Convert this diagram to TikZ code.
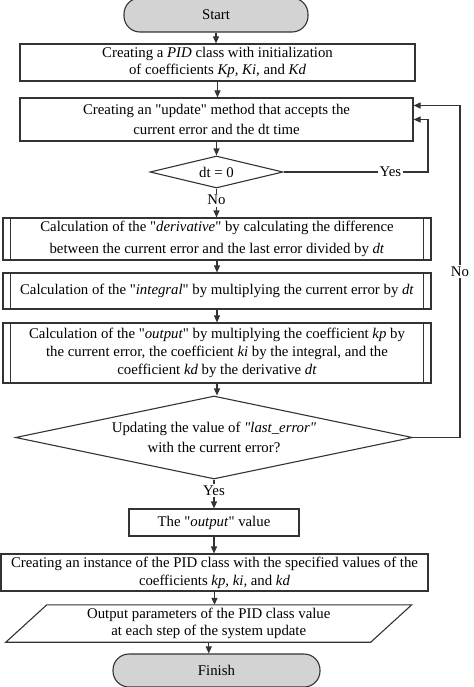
\documentclass[tikz,border=0pt]{standalone}
\usepackage{fontspec}
\setmainfont{Liberation Serif}[Ligatures=TeXOff]
\usetikzlibrary{shapes.geometric,arrows.meta,calc}
\definecolor{linec}{HTML}{333333}
\definecolor{termfill}{HTML}{D3D3D3}
\begin{document}
\begin{tikzpicture}[x=1bp,y=-1bp,
  font=\fontsize{14.8bp}{18bp}\selectfont,
  every node/.style={inner sep=0pt, align=center},
  box/.style={draw=linec, line width=1.1bp, fill=white, rectangle},
  term/.style={draw=linec, line width=1.1bp, fill=termfill, rounded corners=16bp},
  dec/.style={draw=linec, line width=1.1bp, diamond, fill=white, aspect=4},
  arr/.style={draw=linec, line width=1.1bp, -{Triangle[length=7bp,width=6bp]}},
  ln/.style={draw=linec, line width=1.1bp},
  lbl/.style={fill=white, inner sep=1.5bp}]
\useasboundingbox (0,0) rectangle (474,687);

\node[term, minimum width=184bp, minimum height=34bp] (start) at (216,15) {Start};
\node[box, minimum width=395bp, minimum height=37bp] (b1) at (217.5,62.5)
  {Creating a \textit{PID} class with initialization\\[-1bp] of coefficients \textit{Kp, Ki}, and \textit{Kd}};
\node[box, minimum width=393bp, minimum height=43bp] (b2) at (216.5,119.5)
  {Creating an "update" method that accepts the\\[2bp] current error and the dt time};
\node[dec, minimum width=133bp, minimum height=32bp] (d1) at (216.5,172) {dt = 0};
\node[box, minimum width=428bp, minimum height=42bp] (b3) at (217,239)
  {Calculation of the "\textit{derivative}" by calculating the difference\\[4bp] between the current error and the last error divided by \textit{dt}};
\node[box, minimum width=428bp, minimum height=36bp] (b4) at (217,291)
  {Calculation of the "\textit{integral}" by multiplying the current error by \textit{dt}};
\node[box, minimum width=428bp, minimum height=60bp] (b5) at (217,353)
  {Calculation of the "\textit{output}" by multiplying the coefficient \textit{kp} by\\ the current error, the coefficient \textit{ki} by the integral, and the\\ coefficient \textit{kd} by the derivative \textit{dt}};
\node[dec, minimum width=397bp, minimum height=83bp] (d2) at (214,437.5)
  {Updating the value of \textit{"last\_error"}\\[2bp] with the current error?};
\node[box, minimum width=170bp, minimum height=27bp] (b6) at (214,522.5)
  {The "\textit{output}" value};
\node[box, minimum width=427bp, minimum height=37bp] (b7) at (214.5,572.5)
  {Creating an instance of the PID class with the specified values of the\\ coefficients \textit{kp, ki,} and \textit{kd}};
\node[minimum width=364.5bp, minimum height=37bp] (io) at (208.75,623.5)
  {Output parameters of the PID class value\\[-1bp] at each step of the system update};
\draw[ln] ($(io.north west)+(20.5,0)$) -- ($(io.north east)+(20.5,0)$)
  -- ($(io.south east)+(-20.5,0)$) -- ($(io.south west)+(-20.5,0)$) -- cycle;
\node[term, minimum width=207bp, minimum height=33bp] (finish) at (216.5,670.5) {Finish};

\foreach \n in {b3,b4,b5} {
  \draw[ln] ([xshift=8bp]\n.north west) -- ([xshift=8bp]\n.south west);
  \draw[ln] ([xshift=-8bp]\n.north east) -- ([xshift=-8bp]\n.south east);
}

\draw[arr] (start.south) -- (start.south |- b1.north);
\draw[arr] (b1.south) -- (b1.south |- b2.north);
\draw[arr] (b2.south) -- (b2.south |- d1.north);
\draw[arr] (d1.south) -- node[lbl, pos=0.4]{No} (d1.south |- b3.north);
\draw[arr] (b3.south) -- (b3.south |- b4.north);
\draw[arr] (b4.south) -- (b4.south |- b5.north);
\draw[arr] (b5.south) -- (b5.south |- d2.north);
\draw[arr] (d2.south) -- node[lbl, pos=0.37]{Yes} (d2.south |- b6.north);
\draw[arr] (b6.south) -- (b6.south |- b7.north);
\draw[arr] (b7.south) -- (b7.south |- io.north);
\draw[arr] (io.south) -- (io.south |- finish.north);

\coordinate (yx) at (428,0);
\coordinate (nx) at (460,0);
\coordinate (b2n) at ([yshift=14bp]b2.east);
\draw[arr] (d1.east) -- node[lbl, pos=0.74]{Yes} (d1.east -| yx) |- (b2.east);
\draw[arr] (d2.east) -- (d2.east -| nx) -- node[lbl]{No} (nx |- b2n) -- (b2n);
\end{tikzpicture}
\end{document}
